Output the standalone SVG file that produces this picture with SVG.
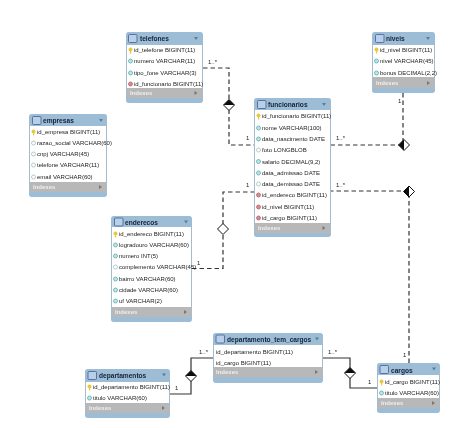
<svg xmlns="http://www.w3.org/2000/svg" width="474" height="428" viewBox="0 0 474 428">
<style>
text{font-family:"Liberation Sans",Arial,sans-serif}
.box{fill:#fff;stroke:#a3bccf;stroke-width:1}
.head{fill:#9dbdd6}
.idx{fill:#b8b8b8}
.foot{fill:#9dbdd6}
.title{font-size:6.6px;font-weight:700;fill:#14223a}
.row{font-size:6px;fill:#222}
.ix{font-size:6px;font-weight:700;fill:#eee}
.lab{font-size:6px;fill:#222}
.ico{fill:#b9cfe8;stroke:#3d5d96;stroke-width:.8}
.pk{fill:#e8c83c}
.col{fill:#bfe6e6;stroke:#4aa5a5;stroke-width:.7}
.nul{fill:#fff;stroke:#9ab5b5;stroke-width:.7}
.fk{fill:#e08a8a;stroke:#a05a6a;stroke-width:.7}
.tri{fill:#5c7d96}
.tri2{fill:#777}
.dash{fill:none;stroke:#333;stroke-width:1.2;stroke-dasharray:4.5 3}
.solid{fill:none;stroke:#333;stroke-width:1.2}
.dw{fill:#fff;stroke:#111;stroke-width:1}
.db{fill:#111}
</style>
<defs><filter id="soft" x="0" y="0" width="100%" height="100%"><feGaussianBlur stdDeviation="0.3"/></filter></defs>
<g filter="url(#soft)">
<g id="connectors">
<path class="dash" d="M203 68H229V145H254"/>
<path class="dash" d="M403 93V145H331"/>
<path class="dash" d="M409 363V191H331"/>
<path class="dash" d="M192 268.500H223V192H254"/>
<path class="solid" d="M170 394H191V358H213"/>
<path class="solid" d="M323 358H350V388H377"/>
<path class="dw" d="M229 99.500l5.500 5.500-5.500 5.500-5.500-5.500z"/><path class="db" d="M229 99.500l5.500 5.500h-11z"/>
<path class="dw" d="M404 139.500l5.500 5.500-5.500 5.500-5.500-5.500z"/><path class="db" d="M404 139.500v11l-5.500-5.500z"/>
<path class="dw" d="M409 186l5.500 5.500-5.500 5.500-5.500-5.500z"/><path class="db" d="M409 186v11l-5.500-5.500z"/>
<path class="dw" d="M223 223.500l5.500 5.500-5.500 5.500-5.500-5.500z"/>
<path class="dw" d="M191 370.500l5.500 5.500-5.500 5.500-5.500-5.500z"/><path class="db" d="M191 370.500l5.500 5.500h-11z"/>
<path class="dw" d="M350 367.500l5.500 5.500-5.500 5.500-5.500-5.500z"/><path class="db" d="M350 367.500l5.500 5.500h-11z"/>
<text class="lab" x="208" y="64">1..*</text>
<text class="lab" x="246" y="140">1</text>
<text class="lab" x="336" y="140">1..*</text>
<text class="lab" x="398" y="103">1</text>
<text class="lab" x="336" y="187">1..*</text>
<text class="lab" x="246" y="187">1</text>
<text class="lab" x="197" y="265">1</text>
<text class="lab" x="403" y="357">1</text>
<text class="lab" x="175" y="390">1</text>
<text class="lab" x="199" y="354">1..*</text>
<text class="lab" x="328" y="354">1..*</text>
<text class="lab" x="368" y="384">1</text>
</g>
<g id="telefones">
<rect class="box" x="126.500" y="32.500" width="76" height="70" rx="3"/>
<path class="head" d="M126 45V35a3 3 0 0 1 3-3h71a3 3 0 0 1 3 3v10z"/>
<rect class="idx" x="127" y="88" width="75" height="10"/><path class="foot" d="M126 98h77v2a3 3 0 0 1-3 3h-71a3 3 0 0 1-3-3z"/>
<rect class="ico" x="128.500" y="34.500" width="8.500" height="8" rx="1"/>
<text class="title" x="140" y="41">telefones</text><path class="tri" d="M194 37h4l-2 3z"/>
<circle class="pk" cx="130.500" cy="49.500" r="2"/><path class="pk" d="M130 50h1.200v3.500h-1.200z"/>
<text class="row" x="134" y="52.200">id_telefone BIGINT(11)</text>
<circle class="col" cx="130.500" cy="61" r="2"/><text class="row" x="134" y="63.200">numero VARCHAR(11)</text>
<circle class="col" cx="130.500" cy="73" r="2"/><text class="row" x="134" y="75.200">tipo_fone VARCHAR(3)</text>
<circle class="fk" cx="130.500" cy="84" r="2"/><text class="row" x="134" y="86.200">id_funcionario BIGINT(11)</text>
<text class="ix" x="130" y="95">Indexes</text><path class="tri2" d="M194.500 91l3 2-3 2z"/>
</g>
<g id="niveis">
<rect class="box" x="372.500" y="32.500" width="62" height="60" rx="3"/>
<path class="head" d="M372 45V35a3 3 0 0 1 3-3h57a3 3 0 0 1 3 3v10z"/>
<rect class="idx" x="373" y="77" width="61" height="11"/><path class="foot" d="M372 88h63v2a3 3 0 0 1-3 3h-57a3 3 0 0 1-3-3z"/>
<rect class="ico" x="375.500" y="34.500" width="8.500" height="8" rx="1"/>
<text class="title" x="386" y="41">niveis</text><path class="tri" d="M426 37h4l-2 3z"/>
<circle class="pk" cx="376.500" cy="49.500" r="2"/><path class="pk" d="M376 50h1.200v3.500h-1.200z"/>
<text class="row" x="380" y="52.200">id_nivel BIGINT(11)</text>
<circle class="col" cx="376.500" cy="61" r="2"/><text class="row" x="380" y="63.200">nivel VARCHAR(45)</text>
<circle class="col" cx="376.500" cy="73" r="2"/><text class="row" x="380" y="75.200">bonus DECIMAL(2,2)</text>
<text class="ix" x="376" y="85">Indexes</text><path class="tri2" d="M427 81l3 2-3 2z"/>
</g>
<g id="funcionarios">
<rect class="box" x="254.500" y="98.500" width="76" height="138" rx="3"/>
<path class="head" d="M254 110V101a3 3 0 0 1 3-3h71a3 3 0 0 1 3 3v9z"/>
<rect class="idx" x="255" y="223" width="75" height="10"/><path class="foot" d="M254 233h77v1a3 3 0 0 1-3 3h-71a3 3 0 0 1-3-3z"/>
<rect class="ico" x="257.500" y="100.500" width="8.500" height="8" rx="1"/>
<text class="title" x="268" y="107">funcionarios</text><path class="tri" d="M322 103h4l-2 3z"/>
<circle class="pk" cx="258.500" cy="115.500" r="2"/><path class="pk" d="M258 116h1.200v3.500h-1.200z"/>
<text class="row" x="262" y="118.200">id_funcionario BIGINT(11)</text>
<circle class="col" cx="258.500" cy="128" r="2"/><text class="row" x="262" y="130.200">nome VARCHAR(100)</text>
<circle class="col" cx="258.500" cy="139" r="2"/><text class="row" x="262" y="141.200">data_nascimento DATE</text>
<circle class="nul" cx="258.500" cy="150" r="2"/><text class="row" x="262" y="152.200">foto LONGBLOB</text>
<circle class="col" cx="258.500" cy="161.500" r="2"/><text class="row" x="262" y="163.700">salario DECIMAL(9,2)</text>
<circle class="col" cx="258.500" cy="173" r="2"/><text class="row" x="262" y="175.200">data_admissao DATE</text>
<circle class="nul" cx="258.500" cy="184" r="2"/><text class="row" x="262" y="186.200">data_demissao DATE</text>
<circle class="fk" cx="258.500" cy="195" r="2"/><text class="row" x="262" y="197.200">id_endereco BIGINT(11)</text>
<circle class="fk" cx="258.500" cy="207" r="2"/><text class="row" x="262" y="209.200">id_nivel BIGINT(11)</text>
<circle class="fk" cx="258.500" cy="218" r="2"/><text class="row" x="262" y="220.200">id_cargo BIGINT(11)</text>
<text class="ix" x="258" y="230">Indexes</text><path class="tri2" d="M322.500 226l3 2-3 2z"/>
</g>
<g id="empresas">
<rect class="box" x="29.500" y="114.500" width="77" height="82" rx="3"/>
<path class="head" d="M29 126V117a3 3 0 0 1 3-3h72a3 3 0 0 1 3 3v9z"/>
<rect class="idx" x="30" y="182" width="76" height="10"/><path class="foot" d="M29 192h78v2a3 3 0 0 1-3 3h-72a3 3 0 0 1-3-3z"/>
<rect class="ico" x="32.500" y="116.500" width="8.500" height="8" rx="1"/>
<text class="title" x="43" y="123">empresas</text><path class="tri" d="M99 119h4l-2 3z"/>
<circle class="pk" cx="33.500" cy="131.500" r="2"/><path class="pk" d="M33 132h1.200v3.500h-1.200z"/>
<text class="row" x="37" y="134.200">id_empresa BIGINT(11)</text>
<circle class="nul" cx="33.500" cy="143" r="2"/><text class="row" x="37" y="145.200">razao_social VARCHAR(60)</text>
<circle class="nul" cx="33.500" cy="154" r="2"/><text class="row" x="37" y="156.200">cnpj VARCHAR(45)</text>
<circle class="nul" cx="33.500" cy="165" r="2"/><text class="row" x="37" y="167.200">telefone VARCHAR(11)</text>
<circle class="nul" cx="33.500" cy="177" r="2"/><text class="row" x="37" y="179.200">email VARCHAR(60)</text>
<text class="ix" x="33" y="189">Indexes</text><path class="tri2" d="M99 185l3 2-3 2z"/>
</g>
<g id="enderecos">
<rect class="box" x="111.500" y="216.500" width="80" height="105" rx="3"/>
<path class="head" d="M111 227V219a3 3 0 0 1 3-3h75a3 3 0 0 1 3 3v8z"/>
<rect class="idx" x="112" y="307" width="79" height="10"/><path class="foot" d="M111 317h81v2a3 3 0 0 1-3 3h-75a3 3 0 0 1-3-3z"/>
<rect class="ico" x="114.500" y="218" width="8.500" height="8" rx="1"/>
<text class="title" x="125" y="224.500">enderecos</text><path class="tri" d="M184 220.500h4l-2 3z"/>
<circle class="pk" cx="115.500" cy="233.500" r="2"/><path class="pk" d="M115 234h1.200v3.500h-1.200z"/>
<text class="row" x="119" y="236.200">id_endereco BIGINT(11)</text>
<circle class="col" cx="115.500" cy="245" r="2"/><text class="row" x="119" y="247.200">logradouro VARCHAR(60)</text>
<circle class="col" cx="115.500" cy="256" r="2"/><text class="row" x="119" y="258.200">numero INT(5)</text>
<circle class="nul" cx="115.500" cy="267" r="2"/><text class="row" x="119" y="269.200">complemento VARCHAR(45)</text>
<circle class="col" cx="115.500" cy="279" r="2"/><text class="row" x="119" y="281.200">bairro VARCHAR(60)</text>
<circle class="col" cx="115.500" cy="290" r="2"/><text class="row" x="119" y="292.200">cidade VARCHAR(60)</text>
<circle class="col" cx="115.500" cy="301" r="2"/><text class="row" x="119" y="303.200">uf VARCHAR(2)</text>
<text class="ix" x="115" y="314">Indexes</text><path class="tri2" d="M184 310l3 2-3 2z"/>
</g>
<g id="departamentos">
<rect class="box" x="85.500" y="369.500" width="84" height="48" rx="3"/>
<path class="head" d="M85 382V372a3 3 0 0 1 3-3h79a3 3 0 0 1 3 3v10z"/>
<rect class="idx" x="86" y="403" width="83" height="10"/><path class="foot" d="M85 413h85v2a3 3 0 0 1-3 3h-79a3 3 0 0 1-3-3z"/>
<rect class="ico" x="88" y="371.500" width="8.500" height="8" rx="1"/>
<text class="title" x="99" y="378">departamentos</text><path class="tri" d="M162 373.500h4l-2 3z"/>
<circle class="pk" cx="89.500" cy="386.500" r="2"/><path class="pk" d="M89 387h1.200v3.500h-1.200z"/>
<text class="row" x="93" y="389.200">id_departamento BIGINT(11)</text>
<circle class="col" cx="89.500" cy="398" r="2"/><text class="row" x="93" y="400.200">titulo VARCHAR(60)</text>
<text class="ix" x="89" y="410">Indexes</text><path class="tri2" d="M162 406l3 2-3 2z"/>
</g>
<g id="departamento_tem_cargos">
<rect class="box" x="213.500" y="333.500" width="109" height="49" rx="3"/>
<path class="head" d="M213 345V336a3 3 0 0 1 3-3h104a3 3 0 0 1 3 3v9z"/>
<rect class="idx" x="214" y="367" width="108" height="10"/><path class="foot" d="M213 377h110v3a3 3 0 0 1-3 3h-104a3 3 0 0 1-3-3z"/>
<rect class="ico" x="216" y="335" width="8.500" height="8" rx="1"/>
<text class="title" x="227" y="342">departamento_tem_cargos</text><path class="tri" d="M315 337.500h4l-2 3z"/>
<text class="row" x="216" y="354.200">id_departamento BIGINT(11)</text>
<text class="row" x="216" y="365.200">id_cargo BIGINT(11)</text>
<text class="ix" x="216" y="374">Indexes</text><path class="tri2" d="M315 370l3 2-3 2z"/>
</g>
<g id="cargos">
<rect class="box" x="377.500" y="363.500" width="62" height="49" rx="3"/>
<path class="head" d="M377 375V366a3 3 0 0 1 3-3h57a3 3 0 0 1 3 3v9z"/>
<rect class="idx" x="378" y="398" width="61" height="10"/><path class="foot" d="M377 408h63v2a3 3 0 0 1-3 3h-57a3 3 0 0 1-3-3z"/>
<rect class="ico" x="380" y="365.500" width="8.500" height="8" rx="1"/>
<text class="title" x="391" y="372.500">cargos</text><path class="tri" d="M432 367.500h4l-2 3z"/>
<circle class="pk" cx="381.500" cy="381.500" r="2"/><path class="pk" d="M381 382h1.200v3.500h-1.200z"/>
<text class="row" x="385" y="384.200">id_cargo BIGINT(11)</text>
<circle class="col" cx="381.500" cy="393" r="2"/><text class="row" x="385" y="395.200">titulo VARCHAR(60)</text>
<text class="ix" x="381" y="405">Indexes</text><path class="tri2" d="M432 401l3 2-3 2z"/>
</g>
</g>
</svg>
